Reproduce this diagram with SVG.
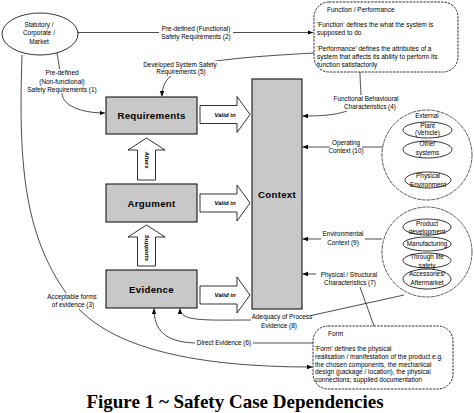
<svg xmlns="http://www.w3.org/2000/svg" width="474" height="413" viewBox="0 0 474 413">
<defs>
<style>
.lbl{font-family:"Liberation Sans",Arial,sans-serif;font-size:6.4px;text-anchor:middle;fill:#000}
.txt{font-family:"Liberation Sans",Arial,sans-serif;font-size:6.5px;fill:#000}
.big{font-family:"Liberation Sans",Arial,sans-serif;font-size:9.7px;font-weight:bold;text-anchor:middle;letter-spacing:0.3px;fill:#000}
.vi{font-family:"Liberation Sans",Arial,sans-serif;font-size:6px;font-weight:bold;font-style:italic;text-anchor:middle;fill:#000}
.box{fill:#c8c8c8;stroke:#000;stroke-width:1}
.blk{fill:#fff;stroke:#000;stroke-width:0.8}
.conn{fill:none;stroke:#000;stroke-width:0.7}
.dash{fill:#fff;stroke:#333;stroke-width:1;stroke-dasharray:2.5 1}
.ring{fill:#fff;stroke:#333;stroke-width:0.8;stroke-dasharray:4 0.8}
.ell{fill:#fff;stroke:#000;stroke-width:0.8}
.bg{fill:#fff}
</style>
<marker id="ah" markerUnits="userSpaceOnUse" markerWidth="6" markerHeight="5" refX="5.5" refY="2.25" orient="auto">
<path d="M0,0 L5.5,2.25 L0,4.5 z" fill="#000"/>
</marker>
</defs>
<rect width="474" height="413" fill="#fff"/>

<g id="connectors">
<path class="conn" d="M78,32.5 L313,32.5" marker-end="url(#ah)"/>
<path class="conn" d="M57,53 C60,70 62,85 62,93 C62,105 80,113 105,113" marker-end="url(#ah)"/>
<path class="conn" d="M314,53 C280,55 220,58 190,66 C170,72 162,82 162,96.5" marker-end="url(#ah)"/>
<path class="conn" d="M22,55 C18,170 25,240 72,301 C110,350 200,367 312.5,367" marker-end="url(#ah)"/>
<path class="conn" d="M360,72 C360,85 362,95 360,102 C350,114 330,116 302.5,116" marker-end="url(#ah)"/>
<path class="conn" d="M383,147 L302.5,147" marker-end="url(#ah)"/>
<path class="conn" d="M382,239 L302.5,239" marker-end="url(#ah)"/>
<path class="conn" d="M330,274 L302.5,274" marker-end="url(#ah)"/>
<path class="conn" d="M360,287 L374,326"/>
<path class="conn" d="M404,295 L300,318 L255,320 C205,320 180,322 180,308.5" marker-end="url(#ah)"/>
<path class="conn" d="M313,343 L195,343 C165,342 154,330 154,308.5" marker-end="url(#ah)"/>

<rect class="bg" x="27" y="69" width="71" height="24"/>
<rect class="bg" x="159" y="25" width="74" height="15"/>
<rect class="bg" x="141" y="61" width="78" height="15"/>
<rect class="bg" x="46" y="293" width="54" height="16"/>
<rect class="bg" x="331" y="95" width="72" height="16"/>
<rect class="bg" x="330" y="139" width="32" height="16"/>
<rect class="bg" x="321" y="230" width="44" height="17"/>
<rect class="bg" x="316" y="271" width="66" height="16"/>
<rect class="bg" x="251" y="313" width="60" height="16"/>
<rect class="bg" x="195" y="339" width="58" height="8"/>

<text class="lbl" x="62" y="75.2">Pre-defined</text>
<text class="lbl" x="62" y="84.2">(Non-functional)</text>
<text class="lbl" x="62" y="92.2">Safety Requirements (1)</text>
<text class="lbl" x="196" y="31.2">Pre-defined (Functional)</text>
<text class="lbl" x="196" y="39.2">Safety Requirements (2)</text>
<text class="lbl" x="180" y="67.2">Developed System Safety</text>
<text class="lbl" x="181" y="74.2">Requirements (5)</text>
<text class="lbl" x="72" y="299.2">Acceptable forms</text>
<text class="lbl" x="73" y="307.2">of evidence (3)</text>
<text class="lbl" x="366" y="101.2">Functional Behavioural</text>
<text class="lbl" x="370" y="109.2">Characteristics (4)</text>
<text class="lbl" x="346" y="145.2">Operating</text>
<text class="lbl" x="346" y="153.2">Context (10)</text>
<text class="lbl" x="343" y="236.2">Environmental</text>
<text class="lbl" x="343" y="245.2">Context (9)</text>
<text class="lbl" x="349" y="277.2">Physical / Structural</text>
<text class="lbl" x="350" y="285.2">Characteristics (7)</text>
<text class="lbl" x="282" y="319.2">Adequacy of Process</text>
<text class="lbl" x="279" y="327.7">Evidence (8)</text>
<text class="lbl" x="224" y="345.2">Direct Evidence (6)</text>
</g>

<g id="statutory">
<ellipse cx="40" cy="34" rx="38" ry="21" fill="#fff" stroke="#000" stroke-width="0.8"/>
<text class="lbl" x="39" y="27.2">Statutory /</text>
<text class="lbl" x="39" y="35.2">Corporate /</text>
<text class="lbl" x="39" y="44.2">Market</text>
</g>

<g id="function-performance">
<rect class="dash" x="314" y="2" width="144" height="70" rx="15"/>
<text class="txt" x="327" y="12.2">Function / Performance</text>
<text class="txt" x="317" y="27.2">'Function' defines the what the system is</text>
<text class="txt" x="317" y="35.2">supposed to do</text>
<text class="txt" x="317" y="51.2">'Performance' defines the attributes of a</text>
<text class="txt" x="317" y="59.2">system that affects its ability to perform its</text>
<text class="txt" x="317" y="66.7">function satisfactorily</text>
</g>

<g id="requirements">
<rect class="box" x="106" y="97" width="91" height="37"/>
<text class="big" x="151.5" y="119">Requirements</text>
</g>

<g id="argument">
<rect class="box" x="106" y="184" width="91" height="38"/>
<text class="big" x="151.5" y="206.5">Argument</text>
</g>

<g id="evidence">
<rect class="box" x="106" y="270" width="91" height="38"/>
<text class="big" x="151.5" y="292.5">Evidence</text>
</g>

<g id="context">
<rect class="box" x="252" y="79" width="50" height="230"/>
<text class="big" x="277" y="197.5">Context</text>
</g>

<g id="valid-in-1">
<polygon class="blk" points="200,105.5 237,105.5 237,96.5 250,114.5 237,132.5 237,123.5 200,123.5"/>
<text class="vi" x="225" y="116.5">Valid in</text>
</g>
<g id="valid-in-2">
<polygon class="blk" points="200,194 237,194 237,185 250,203 237,221 237,212 200,212"/>
<text class="vi" x="225" y="205">Valid in</text>
</g>
<g id="valid-in-3">
<polygon class="blk" points="200,286 237,286 237,277 250,295 237,313 237,304 200,304"/>
<text class="vi" x="225" y="297">Valid in</text>
</g>

<g id="alters">
<polygon class="blk" points="137.5,180 137.5,150 128,150 146.5,138 165,150 155.5,150 155.5,180"/>
<text class="vi" transform="translate(144.5,160) rotate(90)">Alters</text>
</g>
<g id="supports">
<polygon class="blk" points="137.5,266 137.5,237 128,237 146.5,225 165,237 155.5,237 155.5,266"/>
<text class="vi" transform="translate(144.5,248) rotate(90)">Supports</text>
</g>

<g id="operating-context">
<circle class="ring" cx="427" cy="155" r="45"/>
<ellipse class="ell" cx="427.5" cy="130" rx="24.5" ry="8"/>
<ellipse class="ell" cx="427.5" cy="149.5" rx="24.5" ry="8.5"/>
<ellipse class="ell" cx="428" cy="180" rx="23" ry="8"/>
<text class="lbl" x="427" y="118.2">External</text>
<text class="lbl" x="427.5" y="128.2">Plant</text>
<text class="lbl" x="427.5" y="135.2">(Vehicle)</text>
<text class="lbl" x="427.5" y="146.2">Other</text>
<text class="lbl" x="427.5" y="155.2">systems</text>
<text class="lbl" x="428" y="178.2">Physical</text>
<text class="lbl" x="428" y="187.2">Environment</text>
</g>

<g id="environmental-context">
<circle class="ring" cx="427" cy="252" r="45"/>
<ellipse class="ell" cx="427" cy="227" rx="24" ry="8"/>
<ellipse class="ell" cx="427" cy="244" rx="24" ry="7"/>
<ellipse class="ell" cx="427" cy="260.5" rx="24" ry="7.5"/>
<ellipse class="ell" cx="427" cy="279" rx="24" ry="10"/>
<text class="lbl" x="427" y="226.2">Product</text>
<text class="lbl" x="427" y="234.2">development</text>
<text class="lbl" x="427" y="246.2">Manufacturing</text>
<text class="lbl" x="427" y="259.2">Through life</text>
<text class="lbl" x="427" y="268.2">safety</text>
<text class="lbl" x="427" y="276.2">Accessories/</text>
<text class="lbl" x="427" y="285.2">Aftermarket</text>
</g>

<g id="form">
<rect class="dash" x="313" y="326" width="140" height="63" rx="15"/>
<text class="txt" x="328" y="336.2">Form</text>
<text class="txt" x="315" y="351.2">'Form' defines the physical</text>
<text class="txt" x="315" y="359.2">realisation / manifestation of the product e.g.</text>
<text class="txt" x="315" y="366.7">the chosen components, the mechanical</text>
<text class="txt" x="315" y="374.2">design (package / location), the physical</text>
<text class="txt" x="315" y="382.2">connections; supplied documentation</text>
</g>

<text x="235" y="408" font-family="'Liberation Serif','Times New Roman',serif" font-size="19" font-weight="bold" text-anchor="middle">Figure 1 ~ Safety Case Dependencies</text>
</svg>
